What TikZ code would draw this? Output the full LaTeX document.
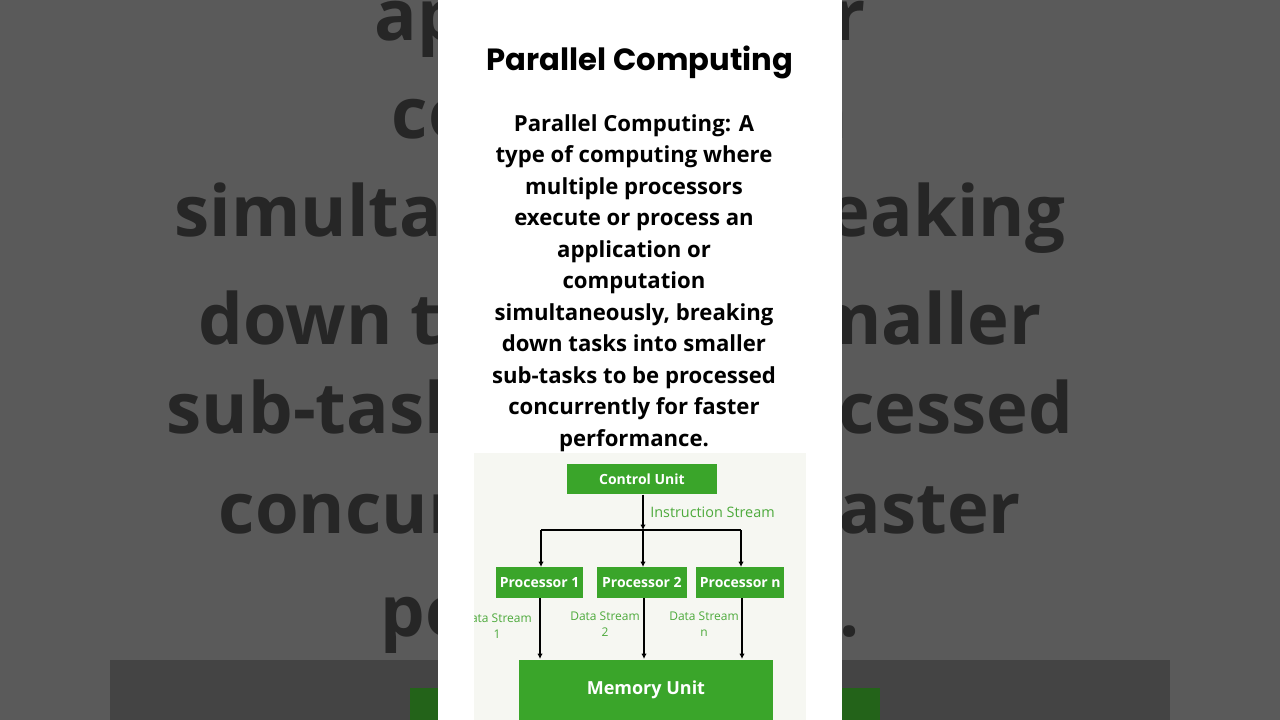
\documentclass[tikz,border=0pt]{standalone}
\usepackage{fontspec}
\setmainfont{Open Sans}
\newfontfamily\titlefont{Poppins}
\usetikzlibrary{arrows.meta}
\definecolor{gbox}{HTML}{3AA52A}
\definecolor{glab}{HTML}{4DAA3C}
\definecolor{bgg}{HTML}{5A5A5A}
\definecolor{bigt}{HTML}{262626}
\definecolor{dbg}{HTML}{F6F7F2}
\tikzset{
 box/.style={fill=gbox,text=white,font=\bfseries\fontsize{10.5}{12}\selectfont,inner sep=0pt,anchor=north west},
 lab/.style={text=glab,font=\fontsize{9}{12}\selectfont,align=center,inner sep=0pt},
 arr/.style={-{Latex[length=4pt,width=4pt]},line width=0.9pt},
 big/.style={text=bigt,font=\bfseries\fontsize{53}{55}\selectfont,inner sep=0pt}
}
\begin{document}
\begin{tikzpicture}[x=0.75pt,y=-0.75pt]
\useasboundingbox (0,0) rectangle (1280,720);
\begin{scope}
\clip (0,0) rectangle (1280,720);
\fill[bgg] (0,0) rectangle (1280,720);
\fill[black!25!bgg] (110,660) rectangle (1170,720);
\fill[gbox!60!black] (410,688) rectangle (880,720);
\node[big] (b0) at (620,22) {application or};
\node[big] (b1) at (620,120) {computation};
\node[big] (b2) at (620,218) {simultaneously, breaking};
\node[big] (b3) at (620,318) {down tasks into smaller};
\node[big] (b4) at (620,415) {sub-tasks to be processed};
\node[big] (b5) at (620,515) {concurrently for faster};
\node[big] (b6) at (620,618) {performance.};
\end{scope}
\fill[white] (438,0) rectangle (842,720);
\node[font=\titlefont\bfseries\fontsize{23}{28}\selectfont] (title) at (640,62) {Parallel Computing};
\node[align=center,font=\bfseries\fontsize{16.6}{23.6}\selectfont,inner sep=0pt] (para) at (634,283)
 {Parallel Computing: A\\type of computing where\\multiple processors\\execute or process an\\application or\\computation\\simultaneously, breaking\\down tasks into smaller\\sub-tasks to be processed\\concurrently for faster\\performance.};
\begin{scope}
\clip (474,453) rectangle (806,720);
\fill[dbg] (474,453) rectangle (806,720);
\node[box,minimum width=112pt,minimum height=22.5pt] (cu) at (567,464) {Control Unit};
\node[box,minimum width=65pt,minimum height=23pt] (p1) at (496,567) {Processor 1};
\node[box,minimum width=67pt,minimum height=23pt] (p2) at (597,567) {Processor 2};
\node[box,minimum width=66pt,minimum height=23pt] (pn) at (696,567) {Processor n};
\node[box,minimum width=190pt,minimum height=45pt,font=\bfseries\fontsize{13.5}{15}\selectfont] (mu) at (519,660) {Memory Unit};
\coordinate (j) at (643,530);
\coordinate (jl) at (541,530);
\coordinate (jr) at (741,530);
\draw[arr] (cu.south -| j) -- (j);
\draw[line width=0.9pt] (jl) -- (jr);
\draw[arr] (jl) -- (jl |- p1.north);
\draw[arr] (j) -- (j |- p2.north);
\draw[arr] (jr) -- (jr |- pn.north);
\draw[arr] (540,598) -- (540,659);
\draw[arr] (644,598) -- (644,659);
\draw[arr] (742,598) -- (742,659);
\node[lab,anchor=west,font=\fontsize{10.8}{12}\selectfont] (is) at (650,512) {Instruction Stream};
\node[lab] (d1) at (497,626) {Data Stream\\1};
\node[lab] (d2) at (605,624) {Data Stream\\2};
\node[lab] (dn) at (704,624) {Data Stream\\n};
\end{scope}
\end{tikzpicture}
\end{document}
